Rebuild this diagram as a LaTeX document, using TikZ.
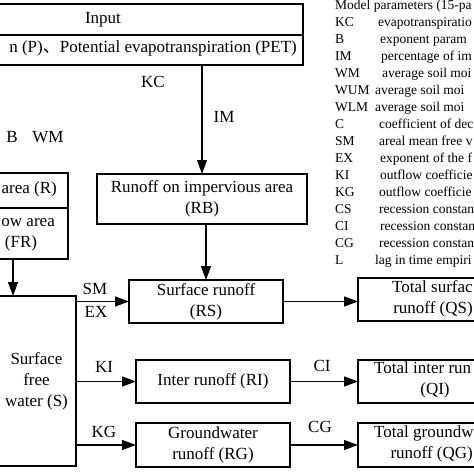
\documentclass[tikz,border=0pt]{standalone}
\usepackage{fontspec}
\setmainfont{Liberation Serif}
\newfontfamily\cjkfont{Noto Sans CJK SC}
\usetikzlibrary{arrows.meta}
\newcommand{\boxfs}{\fontsize{17}{21}\selectfont}
\newcommand{\listfs}{\fontsize{13.5}{17}\selectfont}
\begin{document}
\begin{tikzpicture}[x=1pt,y=-1pt,
  box/.style={draw, line width=1.1pt, inner sep=0pt, outer sep=0pt, align=center, font=\boxfs},
  arr/.style={line width=1.1pt, -{Triangle[length=14pt,width=10pt]}},
  lab/.style={inner sep=0pt, font=\boxfs, text height=0.72em, text depth=0.22em},
  ptxt/.style={inner sep=0pt, anchor=west, font=\listfs, text height=0.72em, text depth=0.22em}]
\useasboundingbox (0,0) rectangle (474,474);
\fill[white] (0,0) rectangle (474,474);
\clip (0,0) rectangle (474,474);

% input box
\node[box, minimum width=403, minimum height=31, anchor=north east] (inA) at (303,4) {};
\node[box, minimum width=403, minimum height=30, anchor=north east] (inB) at (303,35) {};
\node[lab] (tin) at (103,21) {Input};
\node[lab, anchor=east] (tpp) at (297,50) {n (P){\cjkfont 、}Potential evapotranspiration (PET)};

% runoff on impervious area
\node[box, minimum width=210, minimum height=50] (RB) at (202,199) {Runoff on impervious area\\(RB)};
% left boxes
\node[box, minimum width=110, minimum height=35] (R) at (13,190.5) {};
\node[box, minimum width=110, minimum height=51] (FR) at (13,233.5) {};
\node[lab, anchor=east] (tR) at (57,191) {area (R)};
\node[lab, anchor=east] (tFR1) at (55,224) {ow area};
\node[lab] (tFR2) at (21,245) {(FR)};
\node[box, minimum width=79, minimum height=170] (S) at (36.5,381) {Surface\\free\\water (S)};

% runoff boxes
\node[box, minimum width=154, minimum height=43] (RS) at (206,301.5) {Surface runoff\\(RS)};
\node[box, minimum width=154, minimum height=43] (RI) at (213,381.5) {Inter runoff (RI)};
\node[box, minimum width=154, minimum height=44] (RG) at (213,445) {Groundwater\\runoff (RG)};

% total boxes (cut at the right edge)
\node[box, minimum width=156, minimum height=43] (QS) at (436,299.5) {};
\node[box, minimum width=156, minimum height=43] (QI) at (436,381.5) {};
\node[box, minimum width=156, minimum height=44] (QG) at (436,445) {};
\node[lab, anchor=west] (tQS1) at (392,290) {Total surfac};
\node[lab, anchor=east] (tQS2) at (473,311) {runoff (QS)};
\node[lab, anchor=west] (tQI1) at (374,371) {Total inter run};
\node[lab] (tQI2) at (435,392) {(QI)};
\node[lab, anchor=west] (tQG1) at (374,435) {Total groundw};
\node[lab, anchor=east] (tQG2) at (473,456) {runoff (QG)};

% connectors
\draw[arr] (inB.south -| RB.north) -- (RB.north);
\draw[arr] (RB.south -| RS.north) -- (RS.north);
\draw[arr] (FR.south) -- (FR.south |- S.north);
\draw[arr] (S.east |- RS.west) -- (RS.west);
\draw[arr] (S.east |- RI.west) -- (RI.west);
\draw[arr] (S.east |- RG.west) -- (RG.west);
\draw[arr] (RS.east) -- (RS.east -| QS.west);
\draw[arr] (RI.east) -- (QI.west);
\draw[arr] (RG.east) -- (QG.west);

% parameter labels
\node[lab] (lKC) at (153,85) {KC};
\node[lab] (lIM) at (224,120) {IM};
\node[lab] (lB) at (12,140) {B};
\node[lab] (lWM) at (48,140) {WM};
\node[lab] (lSM) at (95,292) {SM};
\node[lab] (lEX) at (96,315) {EX};
\node[lab] (lKI) at (104,370) {KI};
\node[lab] (lKG) at (104,435) {KG};
\node[lab] (lCI) at (322,369) {CI};
\node[lab] (lCG) at (320,430) {CG};

% parameter list
\node[ptxt] (mp) at (335,7) {Model parameters (15-pa};
\foreach \ab/\ds/\dx [count=\i] in {KC/evapotranspiratio/378, B/exponent param/380, IM/percentage of im/381, WM/average soil moi/382, WUM/average soil moi/375, WLM/average soil moi/375, C/coefficient of dec/379, SM/areal mean free v/379, EX/exponent of the f/380, KI/outflow coefficie/380, KG/outflow coefficie/379, CS/recession constan/379, CI/recession constan/380, CG/recession constan/379, L/lag in time empiri/375}
{
  \node[ptxt] (a\i) at (335,7+17*\i) {\ab};
  \node[ptxt] (d\i) at (\dx,7+17*\i) {\ds};
}
\end{tikzpicture}
\end{document}
